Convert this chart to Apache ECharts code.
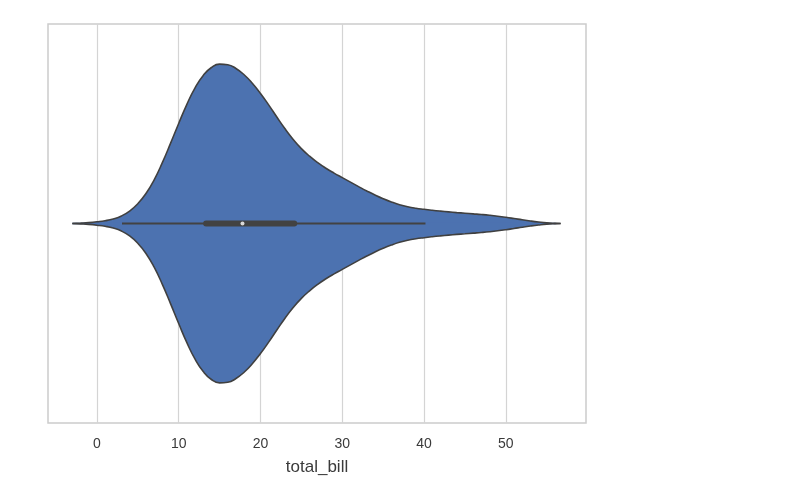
<!DOCTYPE html>
<html><head><meta charset="utf-8">
<script src="https://cdn.jsdelivr.net/npm/echarts@6/dist/echarts.min.js"></script>
<style>html,body{margin:0;padding:0;background:#fff}#c{width:800px;height:481px}</style>
</head><body><div id="c"></div>
<script>
// KDE profile of total_bill (x positions) and relative density (peak = 1)
const densityX = [-3, -2, -1, 0, 1, 2, 3, 4, 5, 6, 7, 8, 9, 10, 11, 12, 13, 14, 15, 16, 17, 18, 19, 20, 21, 22, 23, 24, 25, 26, 27, 28, 29, 30, 31, 32, 33, 34, 35, 36, 37, 38, 39, 40, 41, 42, 43, 44, 45, 46, 47, 48, 49, 50, 51, 52, 53, 54, 55, 56, 56.7];
const densityRel = [0, 0.0025, 0.0056, 0.0106, 0.0175, 0.0288, 0.0475, 0.0781, 0.1238, 0.1875, 0.2738, 0.3813, 0.5019, 0.6269, 0.7469, 0.85, 0.9275, 0.9775, 0.9988, 0.995, 0.9713, 0.9319, 0.8788, 0.815, 0.7431, 0.6669, 0.5931, 0.5269, 0.4694, 0.4219, 0.3813, 0.3463, 0.3156, 0.2875, 0.2594, 0.2313, 0.2038, 0.1781, 0.155, 0.135, 0.1181, 0.105, 0.0956, 0.0888, 0.0828, 0.0775, 0.0728, 0.0684, 0.0644, 0.0603, 0.0563, 0.0516, 0.0459, 0.0391, 0.0313, 0.0231, 0.0156, 0.0091, 0.0038, 0.0009, 0];
const whiskerRange = [3.07, 40.17];
const boxRange = [13.35, 24.13];
const medianValue = 17.8;
const tickValues = [0, 10, 20, 30, 40, 50];
const axisName = 'total_bill';

const halfWidth = 0.4;
const upper = densityX.map((x, i) => [x, densityRel[i] * halfWidth]);
const lower = densityX.map((x, i) => [x, -densityRel[i] * halfWidth]);

const chart = echarts.init(document.getElementById('c'), null, {renderer: 'canvas'});
const outline = '#404040';
const fill = '#4c72b0';
const font = 'Liberation Sans, Arial, sans-serif';
chart.setOption({
  animation: false,
  grid: {left: 48, right: 214, top: 24, bottom: 58, show: true, borderColor: '#cccccc', borderWidth: 1.5, backgroundColor: '#ffffff'},
  xAxis: {
    type: 'value', min: -5.98, max: 59.8,
    axisLine: {show: false}, axisTick: {show: false}, splitLine: {show: false},
    axisLabel: {customValues: tickValues, fontSize: 14, color: '#3a3a3a', margin: 14, fontFamily: font},
    name: axisName, nameLocation: 'middle', nameGap: 36,
    nameTextStyle: {fontSize: 17, color: '#3a3a3a', fontFamily: font}
  },
  yAxis: {
    type: 'value', min: -0.5, max: 0.5,
    axisLine: {show: false}, axisTick: {show: false}, splitLine: {show: false}, axisLabel: {show: false}
  },
  series: [
    {type: 'line', data: [], z: 1, silent: true,
      markLine: {silent: true, z: 1, symbol: ['none', 'none'], label: {show: false},
        lineStyle: {color: '#d4d4d4', width: 1.2, type: 'solid'},
        data: tickValues.map(v => ({xAxis: v}))}},
    {type: 'line', data: upper, smooth: 0.5, showSymbol: false, z: 2,
      lineStyle: {color: outline, width: 1.6}, areaStyle: {color: fill, opacity: 1, origin: -0.002}},
    {type: 'line', data: lower, smooth: 0.5, showSymbol: false, z: 2,
      lineStyle: {color: outline, width: 1.6}, areaStyle: {color: fill, opacity: 1, origin: 0.002}},
    {type: 'line', data: whiskerRange.map(v => [v, 0]), showSymbol: false, z: 3,
      lineStyle: {color: '#424242', width: 2}},
    {type: 'line', data: boxRange.map(v => [v, 0]), showSymbol: false, z: 4,
      lineStyle: {color: '#424242', width: 6, cap: 'round'}},
    {type: 'scatter', data: [[medianValue, 0]], symbol: 'circle', symbolSize: 4, z: 5,
      itemStyle: {color: '#ffffff'}}
  ]
});
</script></body></html>
